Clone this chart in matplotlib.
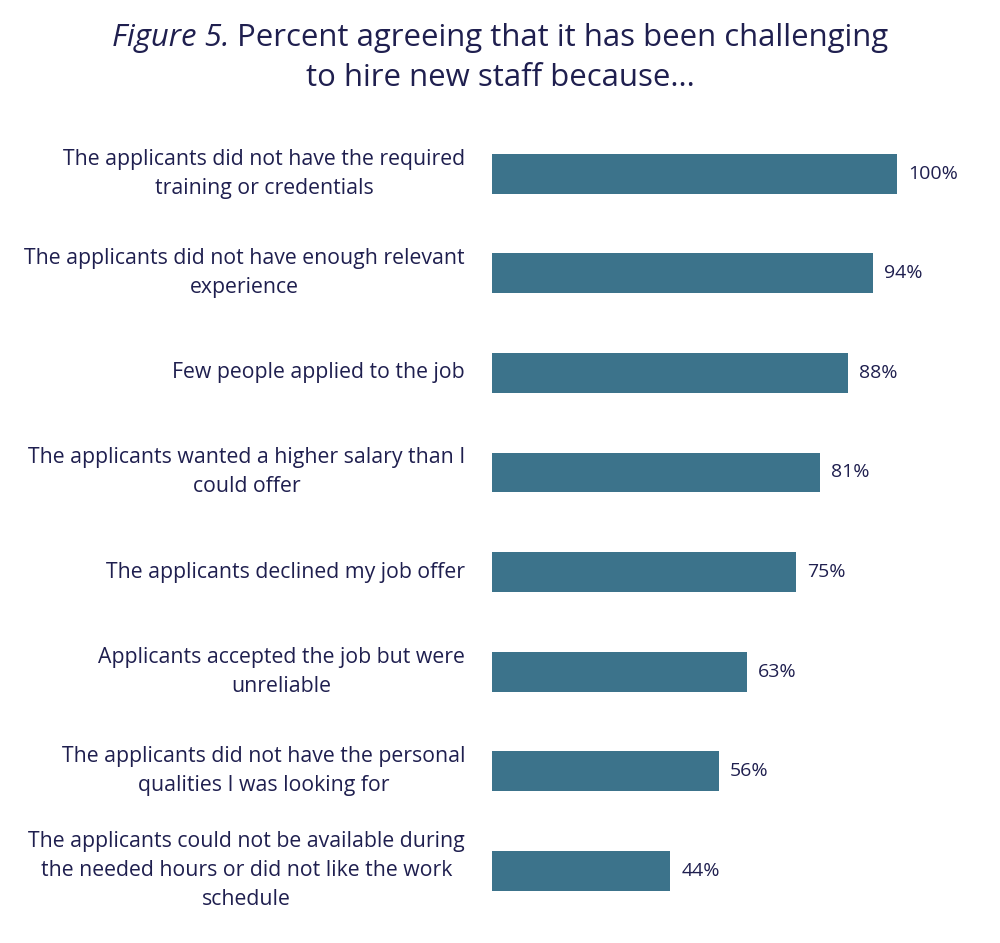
import matplotlib
matplotlib.use("Agg")
import matplotlib.pyplot as plt

categories = [
    "The applicants did not have the required\ntraining or credentials",
    "The applicants did not have enough relevant\nexperience",
    "Few people applied to the job",
    "The applicants wanted a higher salary than I\ncould offer",
    "The applicants declined my job offer",
    "Applicants accepted the job but were\nunreliable",
    "The applicants did not have the personal\nqualities I was looking for",
    "The applicants could not be available during\nthe needed hours or did not like the work\nschedule",
]
values = [100, 94, 88, 81, 75, 63, 56, 44]
value_labels = ["100%", "94%", "88%", "81%", "75%", "63%", "56%", "44%"]
title_italic = "Figure 5."
title_rest_line1 = " Percent agreeing that it has been challenging"
title_line2 = "to hire new staff because..."

BAR = "#3C738B"
TXT = "#1F1F4F"
FONT = "Open Sans"
plt.rcParams["font.family"] = [FONT, "DejaVu Sans"]

fig = plt.figure(figsize=(10, 9.43), dpi=100)
ax = fig.add_axes([0.492, 1 - 920.8 / 943, 0.405, 797 / 943])
ypos = list(range(len(values)))
ax.barh(ypos, values, height=0.40, color=BAR)
ax.set_xlim(0, 100)
ax.set_ylim(len(values) - 0.5, -0.5)
ax.axis("off")

for y, v, lab in zip(ypos, values, value_labels):
    ax.annotate(lab, (v, y), xytext=(11, 0), textcoords="offset pixels",
                ha="left", va="center", fontsize=14, color=TXT)

for y, c in zip(ypos, categories):
    ax.annotate(c, (0, y), xycoords=("axes fraction", "data"),
                xytext=(-27, 0), textcoords="offset pixels",
                ha="right", va="center", multialignment="center",
                fontsize=15.3, color=TXT, linespacing=1.5)

# Title
t1 = fig.text(0.5, 1 - 38 / 943, title_italic, fontsize=22.4, style="italic",
              color=TXT, ha="left", va="center")
t2 = fig.text(0.5, 1 - 38 / 943, title_rest_line1, fontsize=22.4,
              color=TXT, ha="left", va="center")
fig.canvas.draw()
r = fig.canvas.get_renderer()
w1 = t1.get_window_extent(r).width
w2 = t2.get_window_extent(r).width
total = w1 + w2
x0 = 500 - total / 2
t1.set_x(x0 / 1000)
t2.set_x((x0 + w1) / 1000)
fig.text(0.5, 1 - 78 / 943, title_line2, fontsize=22.4, color=TXT,
         ha="center", va="center")

fig.savefig("out.png", dpi=100, facecolor="white")
